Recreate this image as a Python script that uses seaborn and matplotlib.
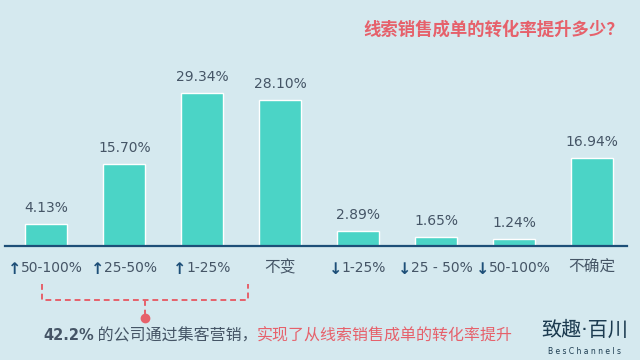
import matplotlib
matplotlib.use("Agg")
from matplotlib import pyplot as plt
from matplotlib.lines import Line2D
import pandas as pd
import seaborn as sns

categories = ["↑50-100%", "↑25-50%", "↑1-25%", "不变", "↓1-25%", "↓25 - 50%", "↓50-100%", "不确定"]
values = [4.13, 15.70, 29.34, 28.10, 2.89, 1.65, 1.24, 16.94]
has_arrow = [True, True, True, False, True, True, True, False]

title = "线索销售成单的转化率提升多少？"
note_bold = "42.2%"
note_gray = " 的公司通过集客营销，"
note_red = "实现了从线索销售成单的转化率提升"

bg = "#d5e9ef"
bar_color = "#4bd4c6"
text_color = "#455566"
red = "#e6616b"
navy = "#1d4f78"

sns.set_style("white")
plt.rcParams["font.family"] = ["DejaVu Sans", "Noto Sans CJK SC"]

df = pd.DataFrame({"cat": categories, "val": values})

fig = plt.figure(figsize=(6.4, 3.6), dpi=100, facecolor=bg)
ax = fig.add_axes([0.008, 0.317, 0.972, 0.52])
ax.set_facecolor(bg)
sns.barplot(data=df, x="cat", y="val", color=bar_color, saturation=1, width=0.54, ax=ax)
ax.set_xlim(-0.53, 7.45)
ax.set_ylim(0, 36)
ax.set_xlabel("")
ax.set_ylabel("")
ax.set_yticks([])
ax.set_xticks([])
for s in ["top", "left", "right"]:
    ax.spines[s].set_visible(False)
ax.spines["bottom"].set_color(navy)
ax.spines["bottom"].set_linewidth(1.6)

for i, v in enumerate(values):
    ax.annotate(f"{v:.2f}%", (i, v), xytext=(0, 6.5), textcoords="offset points",
                ha="center", va="bottom", fontsize=10, color=text_color)

# category labels, arrows in navy
fig.canvas.draw()
r = fig.canvas.get_renderer()
trans = ax.get_xaxis_transform()
inv = fig.transFigure.inverted()
ylab = -0.14
for i, c in enumerate(categories):
    if not has_arrow[i]:
        ax.text(i, ylab, c, transform=trans, ha="center", va="baseline",
                fontsize=11.3, color=text_color, family="Noto Sans CJK SC")
        continue
    probe = ax.text(i, ylab, c, transform=trans, ha="center", va="baseline", fontsize=10)
    bb = probe.get_window_extent(r)
    probe.remove()
    x0 = inv.transform((bb.x0, 0))[0]
    x1 = inv.transform((bb.x1, 0))[0]
    yb = inv.transform(ax.transAxes.transform((0, ylab)))[1]
    fig.text(x0 - 0.002, yb - 0.004, c[0], ha="left", va="baseline", fontsize=11.5,
             color=navy, fontweight="bold")
    fig.text(x1, yb, c[1:], ha="right", va="baseline", fontsize=10, color=text_color)

fig.text(0.975, 0.918, title, ha="right", va="center", fontsize=12.5,
         fontweight="bold", color=red, family="Noto Sans CJK SC")

# dashed bracket
def fx(px):
    return px / 640
def fy(py):
    return 1 - py / 360
ls = dict(color=red, linestyle=(0, (3, 2)), linewidth=1.4)
fig.add_artist(Line2D([fx(42), fx(42), fx(248), fx(248)],
                      [fy(284), fy(300), fy(300), fy(284)], **ls))
fig.add_artist(Line2D([fx(145), fx(145)], [fy(300), fy(316)], **ls))
fig.add_artist(Line2D([fx(145)], [fy(318)], marker="o", markersize=6,
                      color=red, linestyle="none"))

# bottom note
t1 = fig.text(fx(43), fy(336), note_bold, ha="left", va="center", fontsize=10.5,
              fontweight="bold", color=text_color)
fig.canvas.draw()
bb = t1.get_window_extent(r)
t2 = fig.text(bb.x1 / fig.bbox.width, fy(336), note_gray, ha="left", va="center",
              fontsize=11.5, color=text_color, family="Noto Sans CJK SC")
fig.canvas.draw()
bb = t2.get_window_extent(r)
fig.text(bb.x1 / fig.bbox.width, fy(336), note_red, ha="left", va="center",
         fontsize=11.5, color=red, family="Noto Sans CJK SC")

# logo
fig.text(fx(585), fy(330), "致趣·百川", ha="center", va="center", fontsize=14.5,
         color="#1c3b50")
fig.text(fx(585), fy(351), "B e s C h a n n e l s", ha="center", va="center",
         fontsize=5.5, color="#1c3b50")

fig.savefig("out.png", dpi=100, facecolor=bg)
